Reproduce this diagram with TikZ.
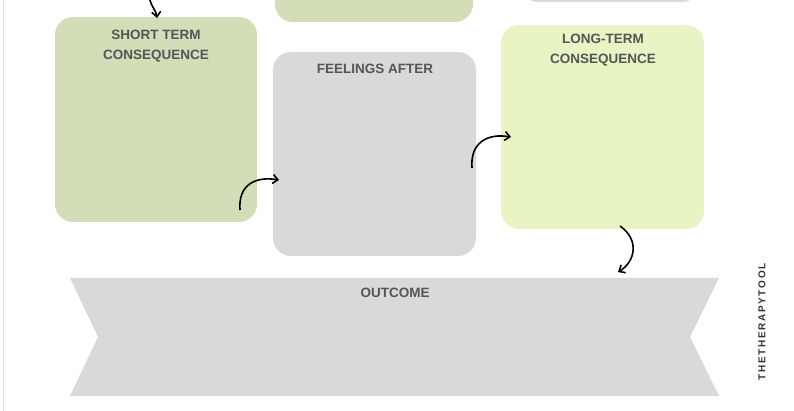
\documentclass[tikz,border=0pt]{standalone}
\usepackage{fontspec}
\setmainfont{Liberation Sans}
\usetikzlibrary{arrows.meta}
\definecolor{sgreen}{HTML}{D3DDB8}
\definecolor{lgreen}{HTML}{E8F4C4}
\definecolor{gbox}{HTML}{D9D9D9}
\definecolor{txt}{HTML}{555555}
\begin{document}
\begin{tikzpicture}[x=1pt,y=-1pt,
  card/.style={rounded corners=18pt},
  lbl/.style={text=txt,font=\bfseries\fontsize{13.5}{20}\selectfont,align=center,anchor=north},
  curv/.style={line width=1.6pt,-{Straight Barb[length=5pt,width=9pt]}}]
\useasboundingbox (0,0) rectangle (794,411);
\fill[white] (0,0) rectangle (794,411);
\draw[gbox!70] (3,0) -- (3,411);
\fill[sgreen,card] (275,-40) rectangle (473,22);
\fill[gbox,card] (520,-40) rectangle (700,2);
\fill[sgreen,card] (55,17) rectangle (257,222);
\fill[gbox,card] (273,52) rectangle (476,256);
\fill[lgreen,card] (501,25) rectangle (704,229);
\node[lbl] (st) at (156,27) {SHORT TERM\\CONSEQUENCE};
\node[lbl] (fa) at (375,61) {FEELINGS AFTER};
\node[lbl] (lt) at (603,31) {LONG-TERM\\CONSEQUENCE};
\coordinate (a0) at (150,0); \coordinate (a1) at (157,18);
\draw[curv] (a0) .. controls (152,8) and (156,10) .. (a1);
\coordinate (b0) at (240,210); \coordinate (b1) at (279,180);
\draw[curv] (b0) .. controls (238,185) and (255,176) .. (b1);
\coordinate (c0) at (472,168); \coordinate (c1) at (511,137);
\draw[curv] (c0) .. controls (470,143) and (487,133) .. (c1);
\coordinate (d0) at (620,226); \coordinate (d1) at (618,272);
\draw[curv] (d0) .. controls (640,240) and (635,262) .. (d1);
\fill[gbox] (70,278) -- (719,278) -- (690,337) -- (719,396) -- (70,396) -- (98,337) -- cycle;
\node[lbl] (oc) at (395,285) {OUTCOME};
\node[rotate=90,font=\bfseries\fontsize{10}{11}\selectfont,text=black!80] (brand) at (762,322) {T\,H\,E\,T\,H\,E\,R\,A\,P\,Y\,T\,O\,O\,L};
\end{tikzpicture}
\end{document}
